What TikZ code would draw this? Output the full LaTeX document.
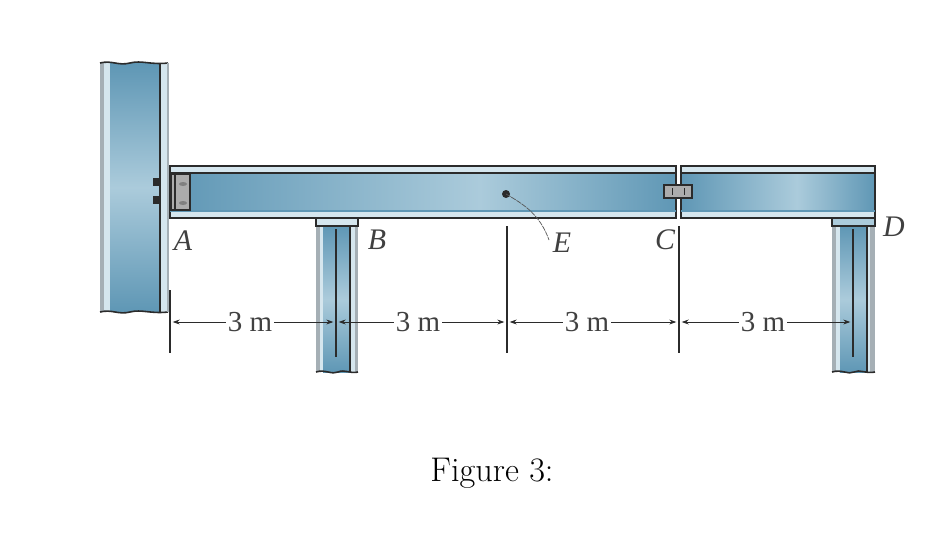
\documentclass[tikz,border=0pt]{standalone}
\usepackage{tikz}
\usepackage{fontspec}
\newfontfamily\labelfont{Liberation Serif}
\usetikzlibrary{arrows.meta}
\definecolor{steeldark}{HTML}{5F97B5}
\definecolor{steellight}{HTML}{ABCBDB}
\definecolor{flangelight}{HTML}{D5E6EE}
\definecolor{edgegray}{HTML}{A5AFB5}
\definecolor{lineink}{HTML}{2B2B2B}
\tikzset{
  outline/.style={draw=lineink, line width=0.9pt},
  dimline/.style={draw=lineink, line width=0.5pt, shorten >=1.5pt, -{Stealth[length=4pt,width=2.8pt]}},
  tickline/.style={draw=lineink, line width=0.7pt},
  lbl/.style={font=\labelfont\fontsize{17}{17}\selectfont\itshape, text=lineink!90, inner sep=0pt},
  dimlbl/.style={font=\labelfont\fontsize{16.5}{16.5}\selectfont, text=lineink!90, inner sep=1pt},
  plate/.style={draw=lineink, line width=0.9pt, fill=gray!65}
}
\begin{document}
\begin{tikzpicture}[x=0.02cm,y=-0.02cm]
      \useasboundingbox (0,0) rectangle (952,544);

      % wall column
      \fill[flangelight] (100,63) rectangle (168,312);
      \fill[edgegray] (100,63) rectangle (104,312);
      \shade[top color=steeldark, bottom color=steeldark, middle color=steellight] (110,64) rectangle (160,311);
      \draw[outline] (160,63) -- (160,312);
      \draw[outline] (100,63) .. controls (112,60) and (118,66) .. (130,63) .. controls (142,60) and (150,65) .. (168,63);
      \draw[outline] (100,312) .. controls (112,309) and (118,315) .. (130,312) .. controls (142,309) and (150,314) .. (168,312);
      \draw[edgegray, line width=0.9pt] (168,63) -- (168,312);
      \fill[lineink] (153,178) rectangle (160,186);
      \fill[lineink] (153,196) rectangle (160,204);

      % beam AC
      \fill[flangelight] (170,166) rectangle (676,218);
      \shade[left color=steeldark, right color=steellight] (170,173) rectangle (480,211);
      \shade[left color=steellight, right color=steeldark] (480,173) rectangle (676,211);
      \draw[outline] (170,166) rectangle (676,218);
      \draw[outline] (170,173) -- (676,173);
      \draw[steeldark, line width=0.6pt] (170,211) -- (676,211);

      % beam CD
      \fill[flangelight] (681,166) rectangle (875,218);
      \shade[left color=steeldark, right color=steellight] (681,173) rectangle (797,211);
      \shade[left color=steellight, right color=steeldark] (797,173) rectangle (875,211);
      \draw[outline] (681,166) rectangle (875,218);
      \draw[outline] (681,173) -- (875,173);
      \draw[steeldark, line width=0.6pt] (681,211) -- (875,211);

      % connections at A and C
      \filldraw[plate] (171,174) rectangle (190,210);
      \draw[outline] (175,174) -- (175,210);
      \fill[lineink!60] (183,184) ellipse (4 and 2);
      \fill[lineink!60] (183,203) ellipse (4 and 2);
      \filldraw[plate] (664,185) rectangle (692,198);
      \draw[lineink, line width=0.4pt] (672,188) -- (672,195) (684,188) -- (684,195);

      % column B
      \fill[flangelight] (316,226) rectangle (358,372);
      \fill[edgegray] (316,226) rectangle (320,372);
      \fill[edgegray] (355,226) rectangle (358,372);
      \shade[top color=steeldark, bottom color=steeldark, middle color=steellight] (323,226) rectangle (350,372);
      \fill[flangelight] (316,219) rectangle (358,226);
      \draw[outline] (316,218) -- (316,226) -- (358,226) -- (358,218);
      \draw[outline] (350,226) -- (350,372);
      \draw[outline] (316,372) .. controls (325,369) and (332,375) .. (338,372) .. controls (345,369) and (350,374) .. (358,372);
      \draw[outline] (336,229) -- (336,357);

      % column D
      \fill[flangelight] (832,226) rectangle (875,372);
      \fill[edgegray] (832,226) rectangle (836,372);
      \fill[edgegray] (870,226) rectangle (875,372);
      \shade[top color=steeldark, bottom color=steeldark, middle color=steellight] (840,226) rectangle (867,372);
      \fill[steellight] (832,219) rectangle (875,226);
      \draw[outline] (832,218) -- (832,226) -- (875,226) -- (875,218);
      \draw[outline] (867,226) -- (867,372);
      \draw[outline] (832,372) .. controls (842,369) and (848,375) .. (854,372) .. controls (860,369) and (866,374) .. (875,372);
      \draw[outline] (853,229) -- (853,357);

      % ticks
      \coordinate (tA) at (170,322);
      \coordinate (tB) at (336,322);
      \coordinate (tE) at (507,322);
      \coordinate (tC) at (679,322);
      \coordinate (tD) at (853,322);
      \draw[tickline] (170,290) -- (170,353);
      \draw[tickline] (507,226) -- (507,353);
      \draw[tickline] (679,226) -- (679,353);

      % point E
      \fill[lineink] (506,194) circle (4) coordinate (ptE);
      \node[lbl] (E) at (562,243) {E};
      \node[lbl] (A) at (183,241) {A};
      \node[lbl] (B) at (377,240) {B};
      \node[lbl] (C) at (665,240) {C};
      \node[lbl] (D) at (894,227) {D};
      \draw[lineink!80, line width=0.4pt, dash pattern=on 3pt off 0.5pt] (ptE) .. controls (525,205) and (540,215) .. (549,240);

      % dimensions
      \node[dimlbl] (d1) at (250,322) {3 m};
      \node[dimlbl] (d2) at (418,322) {3 m};
      \node[dimlbl] (d3) at (587,322) {3 m};
      \node[dimlbl] (d4) at (763,322) {3 m};
      \foreach \lab/\from/\to in {d1/tA/tB, d2/tB/tE, d3/tE/tC, d4/tC/tD}{
        \draw[dimline] (\lab) -- (\from);
        \draw[dimline] (\lab) -- (\to);
      }

      \node[font=\fontsize{19.5}{19.5}\selectfont, inner sep=0pt] (caption) at (492,473) {Figure 3:};
\end{tikzpicture}
\end{document}
